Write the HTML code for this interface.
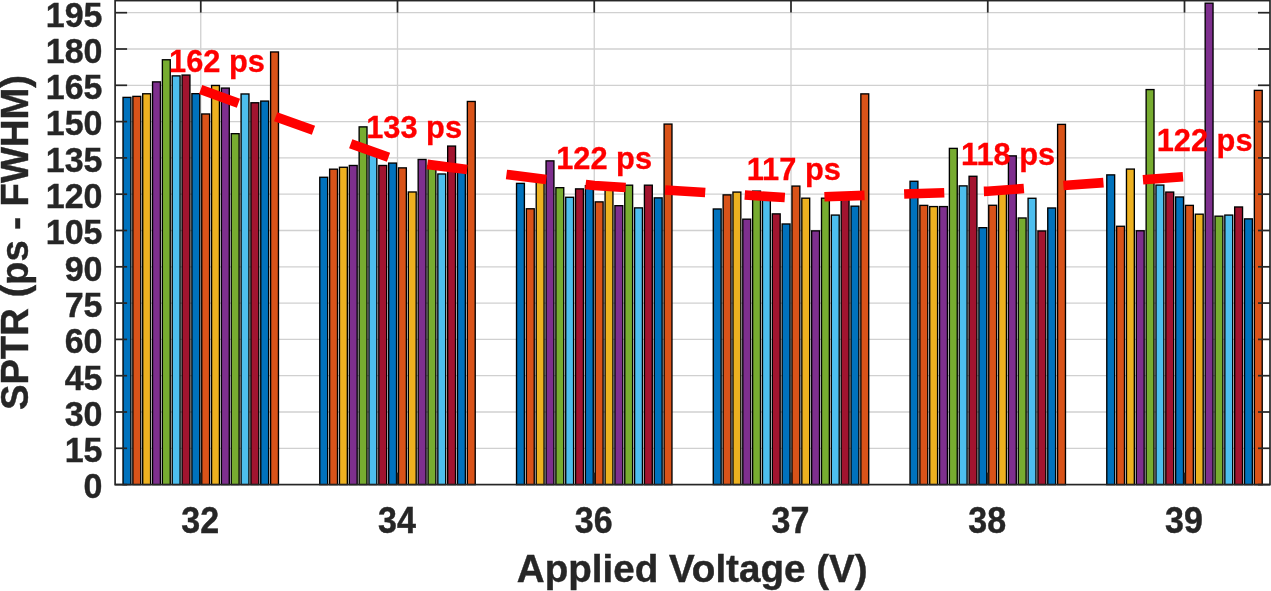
<!DOCTYPE html><html><head><meta charset="utf-8"><title>SPTR vs Applied Voltage</title><style>
html,body{margin:0;padding:0;background:#fff;overflow:hidden}
svg{display:block}
text{font-family:"Liberation Sans",Arial,Helvetica,sans-serif;font-weight:bold}
</style></head><body>
<svg width="1271" height="591" viewBox="0 0 1271 591">
<rect x="0" y="0" width="1271" height="591" fill="#fff"/>
<g stroke="#d0d0d0" stroke-width="1.3" fill="none">
<line x1="115.1" y1="448.30" x2="1270.0" y2="448.30"/>
<line x1="115.1" y1="412.00" x2="1270.0" y2="412.00"/>
<line x1="115.1" y1="375.70" x2="1270.0" y2="375.70"/>
<line x1="115.1" y1="339.40" x2="1270.0" y2="339.40"/>
<line x1="115.1" y1="303.10" x2="1270.0" y2="303.10"/>
<line x1="115.1" y1="266.80" x2="1270.0" y2="266.80"/>
<line x1="115.1" y1="230.50" x2="1270.0" y2="230.50"/>
<line x1="115.1" y1="194.20" x2="1270.0" y2="194.20"/>
<line x1="115.1" y1="157.90" x2="1270.0" y2="157.90"/>
<line x1="115.1" y1="121.60" x2="1270.0" y2="121.60"/>
<line x1="115.1" y1="85.30" x2="1270.0" y2="85.30"/>
<line x1="115.1" y1="49.00" x2="1270.0" y2="49.00"/>
<line x1="115.1" y1="12.70" x2="1270.0" y2="12.70"/>
<line x1="200.75" y1="0.6" x2="200.75" y2="484.6"/>
<line x1="397.50" y1="0.6" x2="397.50" y2="484.6"/>
<line x1="594.25" y1="0.6" x2="594.25" y2="484.6"/>
<line x1="791.00" y1="0.6" x2="791.00" y2="484.6"/>
<line x1="987.75" y1="0.6" x2="987.75" y2="484.6"/>
<line x1="1184.50" y1="0.6" x2="1184.50" y2="484.6"/>
</g>
<g stroke="#000" stroke-width="1.35">
<rect x="123.03" y="97.38" width="7.87" height="387.23" fill="#0072BD"/>
<rect x="132.87" y="96.38" width="7.87" height="388.23" fill="#D95319"/>
<rect x="142.71" y="93.77" width="7.87" height="390.83" fill="#EDB120"/>
<rect x="152.55" y="81.88" width="7.87" height="402.73" fill="#7E2F8E"/>
<rect x="162.38" y="59.77" width="7.87" height="424.83" fill="#77AC30"/>
<rect x="172.22" y="75.88" width="7.87" height="408.73" fill="#4DBEEE"/>
<rect x="182.06" y="75.08" width="7.87" height="409.53" fill="#A2142F"/>
<rect x="191.90" y="93.67" width="7.87" height="390.93" fill="#0072BD"/>
<rect x="201.73" y="113.97" width="7.87" height="370.62" fill="#D95319"/>
<rect x="211.57" y="85.47" width="7.87" height="399.12" fill="#EDB120"/>
<rect x="221.41" y="88.08" width="7.87" height="396.53" fill="#7E2F8E"/>
<rect x="231.25" y="133.68" width="7.87" height="350.93" fill="#77AC30"/>
<rect x="241.08" y="93.97" width="7.87" height="390.62" fill="#4DBEEE"/>
<rect x="250.92" y="102.77" width="7.87" height="381.83" fill="#A2142F"/>
<rect x="260.76" y="101.08" width="7.87" height="383.53" fill="#0072BD"/>
<rect x="270.60" y="51.97" width="7.87" height="432.62" fill="#D95319"/>
<rect x="319.78" y="177.28" width="7.87" height="307.33" fill="#0072BD"/>
<rect x="329.62" y="169.18" width="7.87" height="315.43" fill="#D95319"/>
<rect x="339.46" y="167.28" width="7.87" height="317.33" fill="#EDB120"/>
<rect x="349.30" y="165.48" width="7.87" height="319.12" fill="#7E2F8E"/>
<rect x="359.13" y="126.88" width="7.87" height="357.73" fill="#77AC30"/>
<rect x="368.97" y="150.68" width="7.87" height="333.93" fill="#4DBEEE"/>
<rect x="378.81" y="165.48" width="7.87" height="319.12" fill="#A2142F"/>
<rect x="388.65" y="163.08" width="7.87" height="321.52" fill="#0072BD"/>
<rect x="398.48" y="167.88" width="7.87" height="316.73" fill="#D95319"/>
<rect x="408.32" y="191.98" width="7.87" height="292.62" fill="#EDB120"/>
<rect x="418.16" y="159.48" width="7.87" height="325.12" fill="#7E2F8E"/>
<rect x="428.00" y="165.68" width="7.87" height="318.93" fill="#77AC30"/>
<rect x="437.83" y="173.98" width="7.87" height="310.62" fill="#4DBEEE"/>
<rect x="447.67" y="146.08" width="7.87" height="338.52" fill="#A2142F"/>
<rect x="457.51" y="168.68" width="7.87" height="315.93" fill="#0072BD"/>
<rect x="467.35" y="101.47" width="7.87" height="383.12" fill="#D95319"/>
<rect x="516.53" y="183.38" width="7.87" height="301.23" fill="#0072BD"/>
<rect x="526.37" y="208.78" width="7.87" height="275.83" fill="#D95319"/>
<rect x="536.21" y="179.68" width="7.87" height="304.93" fill="#EDB120"/>
<rect x="546.05" y="160.88" width="7.87" height="323.73" fill="#7E2F8E"/>
<rect x="555.88" y="187.68" width="7.87" height="296.93" fill="#77AC30"/>
<rect x="565.72" y="197.28" width="7.87" height="287.33" fill="#4DBEEE"/>
<rect x="575.56" y="188.88" width="7.87" height="295.73" fill="#A2142F"/>
<rect x="585.40" y="185.68" width="7.87" height="298.93" fill="#0072BD"/>
<rect x="595.23" y="201.88" width="7.87" height="282.73" fill="#D95319"/>
<rect x="605.07" y="187.18" width="7.87" height="297.43" fill="#EDB120"/>
<rect x="614.91" y="205.68" width="7.87" height="278.93" fill="#7E2F8E"/>
<rect x="624.75" y="185.18" width="7.87" height="299.43" fill="#77AC30"/>
<rect x="634.58" y="207.88" width="7.87" height="276.73" fill="#4DBEEE"/>
<rect x="644.42" y="185.18" width="7.87" height="299.43" fill="#A2142F"/>
<rect x="654.26" y="197.88" width="7.87" height="286.73" fill="#0072BD"/>
<rect x="664.10" y="124.08" width="7.87" height="360.53" fill="#D95319"/>
<rect x="713.28" y="208.98" width="7.87" height="275.62" fill="#0072BD"/>
<rect x="723.12" y="194.88" width="7.87" height="289.73" fill="#D95319"/>
<rect x="732.96" y="192.08" width="7.87" height="292.52" fill="#EDB120"/>
<rect x="742.80" y="219.18" width="7.87" height="265.43" fill="#7E2F8E"/>
<rect x="752.63" y="191.08" width="7.87" height="293.52" fill="#77AC30"/>
<rect x="762.47" y="196.68" width="7.87" height="287.93" fill="#4DBEEE"/>
<rect x="772.31" y="213.88" width="7.87" height="270.73" fill="#A2142F"/>
<rect x="782.15" y="223.98" width="7.87" height="260.62" fill="#0072BD"/>
<rect x="791.98" y="186.08" width="7.87" height="298.52" fill="#D95319"/>
<rect x="801.82" y="198.18" width="7.87" height="286.43" fill="#EDB120"/>
<rect x="811.66" y="230.88" width="7.87" height="253.73" fill="#7E2F8E"/>
<rect x="821.50" y="198.18" width="7.87" height="286.43" fill="#77AC30"/>
<rect x="831.33" y="215.08" width="7.87" height="269.52" fill="#4DBEEE"/>
<rect x="841.17" y="196.68" width="7.87" height="287.93" fill="#A2142F"/>
<rect x="851.01" y="206.18" width="7.87" height="278.43" fill="#0072BD"/>
<rect x="860.85" y="93.88" width="7.87" height="390.73" fill="#D95319"/>
<rect x="910.03" y="181.28" width="7.87" height="303.33" fill="#0072BD"/>
<rect x="919.87" y="205.38" width="7.87" height="279.23" fill="#D95319"/>
<rect x="929.71" y="206.58" width="7.87" height="278.02" fill="#EDB120"/>
<rect x="939.55" y="206.58" width="7.87" height="278.02" fill="#7E2F8E"/>
<rect x="949.38" y="148.38" width="7.87" height="336.23" fill="#77AC30"/>
<rect x="959.22" y="185.88" width="7.87" height="298.73" fill="#4DBEEE"/>
<rect x="969.06" y="176.28" width="7.87" height="308.33" fill="#A2142F"/>
<rect x="978.90" y="227.68" width="7.87" height="256.93" fill="#0072BD"/>
<rect x="988.73" y="205.28" width="7.87" height="279.33" fill="#D95319"/>
<rect x="998.57" y="190.68" width="7.87" height="293.93" fill="#EDB120"/>
<rect x="1008.41" y="155.88" width="7.87" height="328.73" fill="#7E2F8E"/>
<rect x="1018.25" y="217.98" width="7.87" height="266.62" fill="#77AC30"/>
<rect x="1028.08" y="198.28" width="7.87" height="286.33" fill="#4DBEEE"/>
<rect x="1037.92" y="230.98" width="7.87" height="253.62" fill="#A2142F"/>
<rect x="1047.76" y="207.98" width="7.87" height="276.62" fill="#0072BD"/>
<rect x="1057.60" y="124.38" width="7.87" height="360.23" fill="#D95319"/>
<rect x="1106.78" y="174.88" width="7.87" height="309.73" fill="#0072BD"/>
<rect x="1116.62" y="226.28" width="7.87" height="258.33" fill="#D95319"/>
<rect x="1126.46" y="169.08" width="7.87" height="315.52" fill="#EDB120"/>
<rect x="1136.30" y="230.78" width="7.87" height="253.83" fill="#7E2F8E"/>
<rect x="1146.13" y="89.58" width="7.87" height="395.03" fill="#77AC30"/>
<rect x="1155.97" y="185.08" width="7.87" height="299.52" fill="#4DBEEE"/>
<rect x="1165.81" y="192.08" width="7.87" height="292.52" fill="#A2142F"/>
<rect x="1175.65" y="196.98" width="7.87" height="287.62" fill="#0072BD"/>
<rect x="1185.48" y="205.38" width="7.87" height="279.23" fill="#D95319"/>
<rect x="1195.32" y="214.18" width="7.87" height="270.43" fill="#EDB120"/>
<rect x="1205.16" y="3.17" width="7.87" height="481.43" fill="#7E2F8E"/>
<rect x="1215.00" y="216.18" width="7.87" height="268.43" fill="#77AC30"/>
<rect x="1224.83" y="215.08" width="7.87" height="269.52" fill="#4DBEEE"/>
<rect x="1234.67" y="206.98" width="7.87" height="277.62" fill="#A2142F"/>
<rect x="1244.51" y="218.88" width="7.87" height="265.73" fill="#0072BD"/>
<rect x="1254.35" y="90.38" width="7.87" height="394.23" fill="#D95319"/>
</g>
<polyline points="200.65,89.60 397.50,160.60 594.25,185.50 791.00,197.90 987.75,191.20 1184.50,176.60" fill="none" stroke="#ff0000" stroke-width="9.6" stroke-dasharray="40.15 39.62" stroke-linecap="butt" stroke-linejoin="miter"/>
<g stroke="#262626" stroke-width="1.7" fill="none">
<rect x="115.1" y="0.6" width="1154.9" height="484.0"/>
<line x1="115.1" y1="484.60" x2="127.1" y2="484.60"/>
<line x1="1270.0" y1="484.60" x2="1258.0" y2="484.60"/>
<line x1="115.1" y1="448.30" x2="127.1" y2="448.30"/>
<line x1="1270.0" y1="448.30" x2="1258.0" y2="448.30"/>
<line x1="115.1" y1="412.00" x2="127.1" y2="412.00"/>
<line x1="1270.0" y1="412.00" x2="1258.0" y2="412.00"/>
<line x1="115.1" y1="375.70" x2="127.1" y2="375.70"/>
<line x1="1270.0" y1="375.70" x2="1258.0" y2="375.70"/>
<line x1="115.1" y1="339.40" x2="127.1" y2="339.40"/>
<line x1="1270.0" y1="339.40" x2="1258.0" y2="339.40"/>
<line x1="115.1" y1="303.10" x2="127.1" y2="303.10"/>
<line x1="1270.0" y1="303.10" x2="1258.0" y2="303.10"/>
<line x1="115.1" y1="266.80" x2="127.1" y2="266.80"/>
<line x1="1270.0" y1="266.80" x2="1258.0" y2="266.80"/>
<line x1="115.1" y1="230.50" x2="127.1" y2="230.50"/>
<line x1="1270.0" y1="230.50" x2="1258.0" y2="230.50"/>
<line x1="115.1" y1="194.20" x2="127.1" y2="194.20"/>
<line x1="1270.0" y1="194.20" x2="1258.0" y2="194.20"/>
<line x1="115.1" y1="157.90" x2="127.1" y2="157.90"/>
<line x1="1270.0" y1="157.90" x2="1258.0" y2="157.90"/>
<line x1="115.1" y1="121.60" x2="127.1" y2="121.60"/>
<line x1="1270.0" y1="121.60" x2="1258.0" y2="121.60"/>
<line x1="115.1" y1="85.30" x2="127.1" y2="85.30"/>
<line x1="1270.0" y1="85.30" x2="1258.0" y2="85.30"/>
<line x1="115.1" y1="49.00" x2="127.1" y2="49.00"/>
<line x1="1270.0" y1="49.00" x2="1258.0" y2="49.00"/>
<line x1="115.1" y1="12.70" x2="127.1" y2="12.70"/>
<line x1="1270.0" y1="12.70" x2="1258.0" y2="12.70"/>
<line x1="200.75" y1="484.6" x2="200.75" y2="472.6"/>
<line x1="200.75" y1="0.6" x2="200.75" y2="12.6"/>
<line x1="397.50" y1="484.6" x2="397.50" y2="472.6"/>
<line x1="397.50" y1="0.6" x2="397.50" y2="12.6"/>
<line x1="594.25" y1="484.6" x2="594.25" y2="472.6"/>
<line x1="594.25" y1="0.6" x2="594.25" y2="12.6"/>
<line x1="791.00" y1="484.6" x2="791.00" y2="472.6"/>
<line x1="791.00" y1="0.6" x2="791.00" y2="12.6"/>
<line x1="987.75" y1="484.6" x2="987.75" y2="472.6"/>
<line x1="987.75" y1="0.6" x2="987.75" y2="12.6"/>
<line x1="1184.50" y1="484.6" x2="1184.50" y2="472.6"/>
<line x1="1184.50" y1="0.6" x2="1184.50" y2="12.6"/>
</g>
<g fill="#262626" stroke="#262626" stroke-width="0.4" font-size="34">
<text transform="translate(102.5,498.40) scale(1,1.04)" text-anchor="end">0</text>
<text transform="translate(102.5,462.10) scale(1,1.04)" text-anchor="end">15</text>
<text transform="translate(102.5,425.80) scale(1,1.04)" text-anchor="end">30</text>
<text transform="translate(102.5,389.50) scale(1,1.04)" text-anchor="end">45</text>
<text transform="translate(102.5,353.20) scale(1,1.04)" text-anchor="end">60</text>
<text transform="translate(102.5,316.90) scale(1,1.04)" text-anchor="end">75</text>
<text transform="translate(102.5,280.60) scale(1,1.04)" text-anchor="end">90</text>
<text transform="translate(102.5,244.30) scale(1,1.04)" text-anchor="end">105</text>
<text transform="translate(102.5,208.00) scale(1,1.04)" text-anchor="end">120</text>
<text transform="translate(102.5,171.70) scale(1,1.04)" text-anchor="end">135</text>
<text transform="translate(102.5,135.40) scale(1,1.04)" text-anchor="end">150</text>
<text transform="translate(102.5,99.10) scale(1,1.04)" text-anchor="end">165</text>
<text transform="translate(102.5,62.80) scale(1,1.04)" text-anchor="end">180</text>
<text transform="translate(102.5,26.50) scale(1,1.04)" text-anchor="end">195</text>
</g>
<g fill="#262626" stroke="#262626" stroke-width="0.4" font-size="34" text-anchor="middle">
<text transform="translate(200.25,533.1) scale(1,1.06)">32</text>
<text transform="translate(397.00,533.1) scale(1,1.06)">34</text>
<text transform="translate(593.75,533.1) scale(1,1.06)">36</text>
<text transform="translate(790.50,533.1) scale(1,1.06)">37</text>
<text transform="translate(987.25,533.1) scale(1,1.06)">38</text>
<text transform="translate(1184.00,533.1) scale(1,1.06)">39</text>
</g>
<text x="692.2" y="582.4" fill="#262626" stroke="#262626" stroke-width="0.4" font-size="38.6" text-anchor="middle">Applied Voltage (V)</text>
<text transform="translate(27.5,242.5) rotate(-90)" fill="#262626" stroke="#262626" stroke-width="0.4" font-size="38.2" text-anchor="middle">SPTR (ps - FWHM)</text>
<g fill="#ff0000" stroke="#ff0000" stroke-width="0.3" font-size="30.8">
<text transform="translate(169.1,71.8) scale(1,1.03)">162 ps</text>
<text transform="translate(366.2,138.3) scale(1,1.03)">133 ps</text>
<text transform="translate(556.2,168.6) scale(1,1.03)">122 ps</text>
<text transform="translate(746.7,179.9) scale(1,1.03)">117 ps</text>
<text transform="translate(961.0,164.6) scale(1,1.03)">118 ps</text>
<text transform="translate(1156.7,150.7) scale(1,1.03)">122 ps</text>
</g>
</svg></body></html>
